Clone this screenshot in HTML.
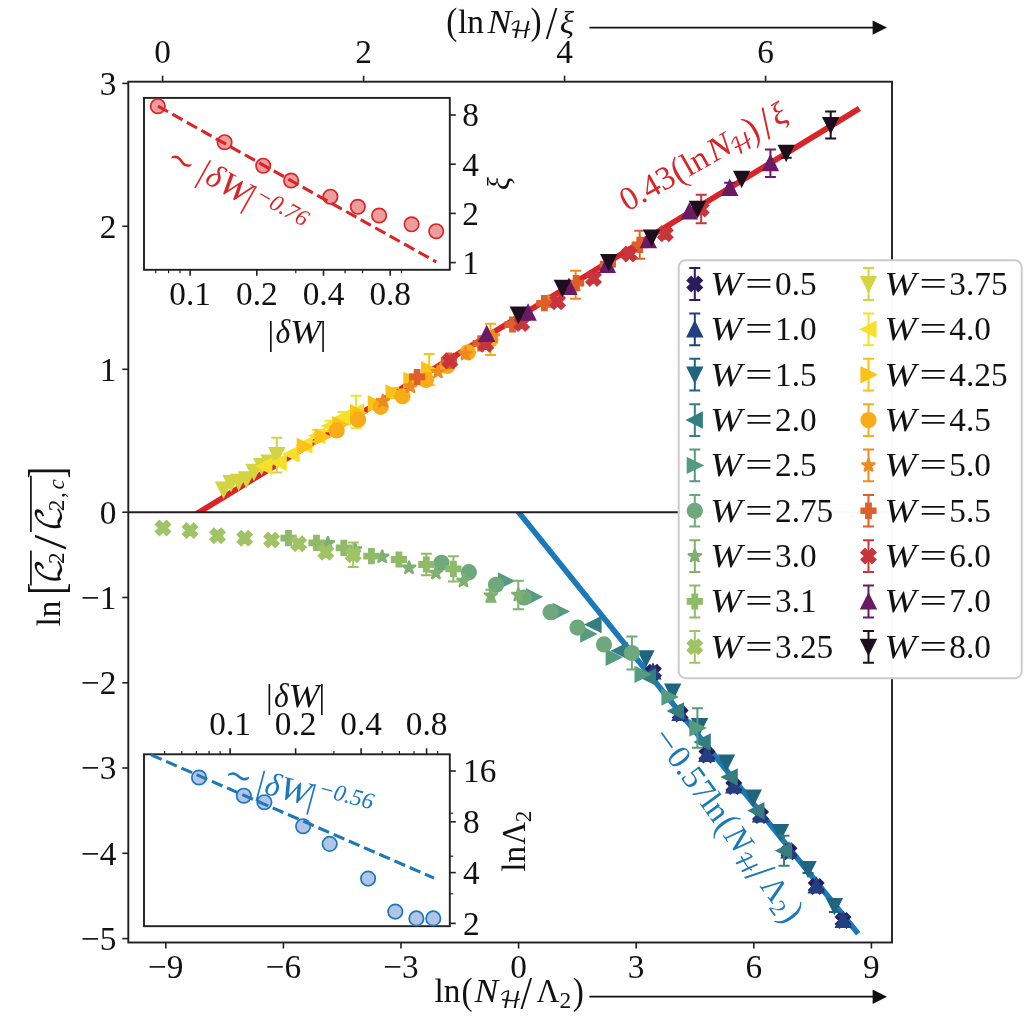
<!DOCTYPE html>
<html><head><meta charset="utf-8"><title>scaling plot</title>
<style>html,body{margin:0;padding:0;background:#fff}svg{display:block}</style></head>
<body>
<svg width="1025" height="1025" viewBox="0 0 1025 1025" style="display:block">
<rect width="1025" height="1025" fill="#fff"/>
<defs><clipPath id="ct"><rect x="128.3" y="81.7" width="763.7" height="430.5"/></clipPath>
<clipPath id="cb"><rect x="128.3" y="512.2" width="763.7" height="430.3"/></clipPath></defs>
<g clip-path="url(#ct)"><line x1="190.0" y1="517.8" x2="859.4" y2="108.5" stroke="#d92528" stroke-width="5.7"/></g>
<g clip-path="url(#cb)"><line x1="515.0" y1="507.7" x2="858.2" y2="933.8" stroke="#1b79ba" stroke-width="5.6"/></g>
<g id="data">
<g><path d="M843.0,916.5 V924.5 M837.5,916.5 H848.5 M837.5,924.5 H848.5" stroke="#2a1c5c" stroke-width="2.0" fill="none"/><path d="M649.9,679.4L653.4,675.8L656.9,679.4L660.5,675.8L656.9,672.3L660.5,668.8L656.9,665.2L653.4,668.8L649.9,665.2L646.3,668.8L649.9,672.3L646.3,675.8Z" fill="#2a1c5c" stroke="#2a1c5c" stroke-width="2.0" stroke-linejoin="miter"/><path d="M676.7,721.1L680.2,717.5L683.8,721.1L687.3,717.5L683.8,714.0L687.3,710.5L683.8,706.9L680.2,710.5L676.7,706.9L673.1,710.5L676.7,714.0L673.1,717.5Z" fill="#2a1c5c" stroke="#2a1c5c" stroke-width="2.0" stroke-linejoin="miter"/><path d="M703.5,762.1L707.0,758.5L710.5,762.1L714.1,758.5L710.5,755.0L714.1,751.5L710.5,747.9L707.0,751.5L703.5,747.9L699.9,751.5L703.5,755.0L699.9,758.5Z" fill="#2a1c5c" stroke="#2a1c5c" stroke-width="2.0" stroke-linejoin="miter"/><path d="M730.2,793.6L733.8,790.0L737.3,793.6L740.9,790.0L737.3,786.5L740.9,783.0L737.3,779.4L733.8,783.0L730.2,779.4L726.7,783.0L730.2,786.5L726.7,790.0Z" fill="#2a1c5c" stroke="#2a1c5c" stroke-width="2.0" stroke-linejoin="miter"/><path d="M757.0,822.6L760.5,819.0L764.0,822.6L767.6,819.0L764.0,815.5L767.6,812.0L764.0,808.4L760.5,812.0L757.0,808.4L753.4,812.0L757.0,815.5L753.4,819.0Z" fill="#2a1c5c" stroke="#2a1c5c" stroke-width="2.0" stroke-linejoin="miter"/><path d="M785.5,858.8L789.0,855.2L792.5,858.8L796.1,855.2L792.5,851.7L796.1,848.2L792.5,844.6L789.0,848.2L785.5,844.6L781.9,848.2L785.5,851.7L781.9,855.2Z" fill="#2a1c5c" stroke="#2a1c5c" stroke-width="2.0" stroke-linejoin="miter"/><path d="M812.7,893.6L816.2,890.0L819.8,893.6L823.3,890.0L819.8,886.5L823.3,883.0L819.8,879.4L816.2,883.0L812.7,879.4L809.1,883.0L812.7,886.5L809.1,890.0Z" fill="#2a1c5c" stroke="#2a1c5c" stroke-width="2.0" stroke-linejoin="miter"/><path d="M839.5,927.6L843.0,924.0L846.5,927.6L850.1,924.0L846.5,920.5L850.1,917.0L846.5,913.4L843.0,917.0L839.5,913.4L835.9,917.0L839.5,920.5L835.9,924.0Z" fill="#2a1c5c" stroke="#2a1c5c" stroke-width="2.0" stroke-linejoin="miter"/></g>
<g><path d="M843.2,916.0 V924.0 M837.7,916.0 H848.7 M837.7,924.0 H848.7" stroke="#243f80" stroke-width="2.0" fill="none"/><path d="M653.0,664.4L645.9,678.6L660.1,678.6Z" fill="#243f80" stroke="#243f80" stroke-width="2.0" stroke-linejoin="miter"/><path d="M680.0,705.9L672.9,720.1L687.1,720.1Z" fill="#243f80" stroke="#243f80" stroke-width="2.0" stroke-linejoin="miter"/><path d="M706.8,746.9L699.7,761.1L713.9,761.1Z" fill="#243f80" stroke="#243f80" stroke-width="2.0" stroke-linejoin="miter"/><path d="M733.6,778.4L726.5,792.6L740.7,792.6Z" fill="#243f80" stroke="#243f80" stroke-width="2.0" stroke-linejoin="miter"/><path d="M760.5,807.4L753.4,821.6L767.6,821.6Z" fill="#243f80" stroke="#243f80" stroke-width="2.0" stroke-linejoin="miter"/><path d="M789.0,843.4L781.9,857.6L796.1,857.6Z" fill="#243f80" stroke="#243f80" stroke-width="2.0" stroke-linejoin="miter"/><path d="M816.2,878.4L809.1,892.6L823.3,892.6Z" fill="#243f80" stroke="#243f80" stroke-width="2.0" stroke-linejoin="miter"/><path d="M843.2,912.9L836.1,927.1L850.3,927.1Z" fill="#243f80" stroke="#243f80" stroke-width="2.0" stroke-linejoin="miter"/></g>
<g><path d="M808.0,865.0 V873.0 M802.5,865.0 H813.5 M802.5,873.0 H813.5" stroke="#1f6580" stroke-width="2.0" fill="none"/><path d="M834.4,900.0 V912.0 M828.9,900.0 H839.9 M828.9,912.0 H839.9" stroke="#1f6580" stroke-width="2.0" fill="none"/><path d="M645.9,665.4L653.0,651.2L638.8,651.2Z" fill="#1f6580" stroke="#1f6580" stroke-width="2.0" stroke-linejoin="miter"/><path d="M672.7,698.7L679.8,684.5L665.6,684.5Z" fill="#1f6580" stroke="#1f6580" stroke-width="2.0" stroke-linejoin="miter"/><path d="M699.5,733.1L706.6,718.9L692.4,718.9Z" fill="#1f6580" stroke="#1f6580" stroke-width="2.0" stroke-linejoin="miter"/><path d="M726.5,769.6L733.6,755.4L719.4,755.4Z" fill="#1f6580" stroke="#1f6580" stroke-width="2.0" stroke-linejoin="miter"/><path d="M753.2,804.7L760.3,790.5L746.1,790.5Z" fill="#1f6580" stroke="#1f6580" stroke-width="2.0" stroke-linejoin="miter"/><path d="M780.5,839.3L787.6,825.1L773.4,825.1Z" fill="#1f6580" stroke="#1f6580" stroke-width="2.0" stroke-linejoin="miter"/><path d="M808.0,876.1L815.1,861.9L800.9,861.9Z" fill="#1f6580" stroke="#1f6580" stroke-width="2.0" stroke-linejoin="miter"/><path d="M834.4,913.1L841.5,898.9L827.3,898.9Z" fill="#1f6580" stroke="#1f6580" stroke-width="2.0" stroke-linejoin="miter"/></g>
<g><path d="M784.0,835.7 V865.7 M778.5,835.7 H789.5 M778.5,865.7 H789.5" stroke="#367d80" stroke-width="2.0" fill="none"/><path d="M586.4,624.5L600.6,631.6L600.6,617.4Z" fill="#367d80" stroke="#367d80" stroke-width="2.0" stroke-linejoin="miter"/><path d="M612.9,650.8L627.1,657.9L627.1,643.7Z" fill="#367d80" stroke="#367d80" stroke-width="2.0" stroke-linejoin="miter"/><path d="M640.9,677.0L655.1,684.1L655.1,669.9Z" fill="#367d80" stroke="#367d80" stroke-width="2.0" stroke-linejoin="miter"/><path d="M668.9,711.0L683.1,718.1L683.1,703.9Z" fill="#367d80" stroke="#367d80" stroke-width="2.0" stroke-linejoin="miter"/><path d="M695.6,742.0L709.8,749.1L709.8,734.9Z" fill="#367d80" stroke="#367d80" stroke-width="2.0" stroke-linejoin="miter"/><path d="M722.6,777.0L736.8,784.1L736.8,769.9Z" fill="#367d80" stroke="#367d80" stroke-width="2.0" stroke-linejoin="miter"/><path d="M749.3,810.7L763.5,817.8L763.5,803.6Z" fill="#367d80" stroke="#367d80" stroke-width="2.0" stroke-linejoin="miter"/><path d="M776.9,850.7L791.1,857.8L791.1,843.6Z" fill="#367d80" stroke="#367d80" stroke-width="2.0" stroke-linejoin="miter"/></g>
<g><path d="M697.4,708.2 V747.8 M691.9,708.2 H702.9 M691.9,747.8 H702.9" stroke="#559b80" stroke-width="2.0" fill="none"/><path d="M513.1,581.0L498.9,573.9L498.9,588.1Z" fill="#559b80" stroke="#559b80" stroke-width="2.0" stroke-linejoin="miter"/><path d="M541.1,596.8L526.9,589.7L526.9,603.9Z" fill="#559b80" stroke="#559b80" stroke-width="2.0" stroke-linejoin="miter"/><path d="M567.8,611.5L553.6,604.4L553.6,618.6Z" fill="#559b80" stroke="#559b80" stroke-width="2.0" stroke-linejoin="miter"/><path d="M595.4,634.0L581.2,626.9L581.2,641.1Z" fill="#559b80" stroke="#559b80" stroke-width="2.0" stroke-linejoin="miter"/><path d="M620.8,657.3L606.6,650.2L606.6,664.4Z" fill="#559b80" stroke="#559b80" stroke-width="2.0" stroke-linejoin="miter"/><path d="M649.7,674.4L635.5,667.3L635.5,681.5Z" fill="#559b80" stroke="#559b80" stroke-width="2.0" stroke-linejoin="miter"/><path d="M676.6,697.0L662.4,689.9L662.4,704.1Z" fill="#559b80" stroke="#559b80" stroke-width="2.0" stroke-linejoin="miter"/><path d="M704.5,728.0L690.3,720.9L690.3,735.1Z" fill="#559b80" stroke="#559b80" stroke-width="2.0" stroke-linejoin="miter"/></g>
<g><path d="M631.9,636.5 V669.5 M626.4,636.5 H637.4 M626.4,669.5 H637.4" stroke="#6fa87c" stroke-width="2.0" fill="none"/><circle cx="441.5" cy="562.8" r="8.1" fill="#6fa87c"/><circle cx="468.9" cy="572.2" r="8.1" fill="#6fa87c"/><circle cx="496.0" cy="584.8" r="8.1" fill="#6fa87c"/><circle cx="523.9" cy="597.5" r="8.1" fill="#6fa87c"/><circle cx="550.6" cy="612.2" r="8.1" fill="#6fa87c"/><circle cx="577.5" cy="627.6" r="8.1" fill="#6fa87c"/><circle cx="604.0" cy="644.4" r="8.1" fill="#6fa87c"/><circle cx="631.9" cy="653.0" r="8.1" fill="#6fa87c"/></g>
<g><path d="M490.9,589.7 V601.7 M485.4,589.7 H496.4 M485.4,601.7 H496.4" stroke="#7fb070" stroke-width="2.0" fill="none"/><path d="M518.3,580.8 V609.2 M512.8,580.8 H523.8 M512.8,609.2 H523.8" stroke="#7fb070" stroke-width="2.0" fill="none"/><path d="M327.9,536.2L326.3,541.1L321.1,541.1L325.3,544.1L323.7,549.0L327.9,546.0L332.1,549.0L330.5,544.1L334.7,541.1L329.5,541.1Z" fill="#7fb070" stroke="#7fb070" stroke-width="2.0" stroke-linejoin="bevel"/><path d="M355.0,542.4L353.4,547.3L348.2,547.3L352.4,550.3L350.8,555.2L355.0,552.2L359.2,555.2L357.6,550.3L361.8,547.3L356.6,547.3Z" fill="#7fb070" stroke="#7fb070" stroke-width="2.0" stroke-linejoin="bevel"/><path d="M382.2,549.7L380.6,554.6L375.4,554.6L379.6,557.6L378.0,562.5L382.2,559.5L386.4,562.5L384.8,557.6L389.0,554.6L383.8,554.6Z" fill="#7fb070" stroke="#7fb070" stroke-width="2.0" stroke-linejoin="bevel"/><path d="M409.0,560.7L407.4,565.6L402.2,565.6L406.4,568.6L404.8,573.5L409.0,570.5L413.2,573.5L411.6,568.6L415.8,565.6L410.6,565.6Z" fill="#7fb070" stroke="#7fb070" stroke-width="2.0" stroke-linejoin="bevel"/><path d="M435.9,565.9L434.3,570.8L429.1,570.8L433.3,573.8L431.7,578.7L435.9,575.7L440.1,578.7L438.5,573.8L442.7,570.8L437.5,570.8Z" fill="#7fb070" stroke="#7fb070" stroke-width="2.0" stroke-linejoin="bevel"/><path d="M463.5,573.9L461.9,578.8L456.7,578.8L460.9,581.8L459.3,586.7L463.5,583.7L467.7,586.7L466.1,581.8L470.3,578.8L465.1,578.8Z" fill="#7fb070" stroke="#7fb070" stroke-width="2.0" stroke-linejoin="bevel"/><path d="M490.9,588.6L489.3,593.5L484.1,593.5L488.3,596.5L486.7,601.4L490.9,598.4L495.1,601.4L493.5,596.5L497.7,593.5L492.5,593.5Z" fill="#7fb070" stroke="#7fb070" stroke-width="2.0" stroke-linejoin="bevel"/><path d="M518.3,587.9L516.7,592.8L511.5,592.8L515.7,595.8L514.1,600.7L518.3,597.7L522.5,600.7L520.9,595.8L525.1,592.8L519.9,592.8Z" fill="#7fb070" stroke="#7fb070" stroke-width="2.0" stroke-linejoin="bevel"/></g>
<g><path d="M426.3,553.7 V575.3 M420.8,553.7 H431.8 M420.8,575.3 H431.8" stroke="#8fba68" stroke-width="2.0" fill="none"/><path d="M453.4,556.3 V581.5 M447.9,556.3 H458.9 M447.9,581.5 H458.9" stroke="#8fba68" stroke-width="2.0" fill="none"/><path d="M286.1,545.3L290.9,545.3L290.9,540.6L295.6,540.6L295.6,535.8L290.9,535.8L290.9,531.1L286.1,531.1L286.1,535.8L281.4,535.8L281.4,540.6L286.1,540.6Z" fill="#8fba68" stroke="#8fba68" stroke-width="2.0" stroke-linejoin="miter"/><path d="M314.1,549.9L318.9,549.9L318.9,545.2L323.6,545.2L323.6,540.4L318.9,540.4L318.9,535.7L314.1,535.7L314.1,540.4L309.4,540.4L309.4,545.2L314.1,545.2Z" fill="#8fba68" stroke="#8fba68" stroke-width="2.0" stroke-linejoin="miter"/><path d="M341.4,554.9L346.2,554.9L346.2,550.2L350.9,550.2L350.9,545.4L346.2,545.4L346.2,540.7L341.4,540.7L341.4,545.4L336.7,545.4L336.7,550.2L341.4,550.2Z" fill="#8fba68" stroke="#8fba68" stroke-width="2.0" stroke-linejoin="miter"/><path d="M369.0,563.2L373.8,563.2L373.8,558.5L378.5,558.5L378.5,553.7L373.8,553.7L373.8,549.0L369.0,549.0L369.0,553.7L364.3,553.7L364.3,558.5L369.0,558.5Z" fill="#8fba68" stroke="#8fba68" stroke-width="2.0" stroke-linejoin="miter"/><path d="M396.5,566.6L401.3,566.6L401.3,561.9L406.0,561.9L406.0,557.1L401.3,557.1L401.3,552.4L396.5,552.4L396.5,557.1L391.8,557.1L391.8,561.9L396.5,561.9Z" fill="#8fba68" stroke="#8fba68" stroke-width="2.0" stroke-linejoin="miter"/><path d="M423.9,571.6L428.7,571.6L428.7,566.9L433.4,566.9L433.4,562.1L428.7,562.1L428.7,557.4L423.9,557.4L423.9,562.1L419.2,562.1L419.2,566.9L423.9,566.9Z" fill="#8fba68" stroke="#8fba68" stroke-width="2.0" stroke-linejoin="miter"/><path d="M451.0,576.0L455.8,576.0L455.8,571.3L460.5,571.3L460.5,566.5L455.8,566.5L455.8,561.8L451.0,561.8L451.0,566.5L446.3,566.5L446.3,571.3L451.0,571.3Z" fill="#8fba68" stroke="#8fba68" stroke-width="2.0" stroke-linejoin="miter"/></g>
<g><path d="M353.2,542.4 V567.0 M347.7,542.4 H358.7 M347.7,567.0 H358.7" stroke="#a0c465" stroke-width="2.0" fill="none"/><path d="M159.4,535.1L163.0,531.5L166.6,535.1L170.1,531.5L166.6,528.0L170.1,524.5L166.6,520.9L163.0,524.5L159.4,520.9L155.9,524.5L159.4,528.0L155.9,531.5Z" fill="#a0c465" stroke="#a0c465" stroke-width="2.0" stroke-linejoin="miter"/><path d="M186.5,537.7L190.1,534.1L193.7,537.7L197.2,534.1L193.7,530.6L197.2,527.1L193.7,523.5L190.1,527.1L186.5,523.5L183.0,527.1L186.5,530.6L183.0,534.1Z" fill="#a0c465" stroke="#a0c465" stroke-width="2.0" stroke-linejoin="miter"/><path d="M213.9,542.8L217.5,539.2L221.1,542.8L224.6,539.2L221.1,535.7L224.6,532.2L221.1,528.6L217.5,532.2L213.9,528.6L210.4,532.2L213.9,535.7L210.4,539.2Z" fill="#a0c465" stroke="#a0c465" stroke-width="2.0" stroke-linejoin="miter"/><path d="M241.1,545.3L244.7,541.8L248.2,545.3L251.8,541.8L248.2,538.2L251.8,534.7L248.2,531.1L244.7,534.7L241.1,531.1L237.6,534.7L241.1,538.2L237.6,541.8Z" fill="#a0c465" stroke="#a0c465" stroke-width="2.0" stroke-linejoin="miter"/><path d="M268.1,547.1L271.6,543.5L275.2,547.1L278.7,543.5L275.2,540.0L278.7,536.5L275.2,532.9L271.6,536.5L268.1,532.9L264.5,536.5L268.1,540.0L264.5,543.5Z" fill="#a0c465" stroke="#a0c465" stroke-width="2.0" stroke-linejoin="miter"/><path d="M295.1,550.9L298.7,547.3L302.2,550.9L305.8,547.3L302.2,543.8L305.8,540.2L302.2,536.7L298.7,540.2L295.1,536.7L291.6,540.2L295.1,543.8L291.6,547.3Z" fill="#a0c465" stroke="#a0c465" stroke-width="2.0" stroke-linejoin="miter"/><path d="M322.2,559.3L325.8,555.8L329.4,559.3L332.9,555.8L329.4,552.2L332.9,548.7L329.4,545.1L325.8,548.7L322.2,545.1L318.7,548.7L322.2,552.2L318.7,555.8Z" fill="#a0c465" stroke="#a0c465" stroke-width="2.0" stroke-linejoin="miter"/><path d="M349.6,561.8L353.2,558.2L356.8,561.8L360.3,558.2L356.8,554.7L360.3,551.2L356.8,547.6L353.2,551.2L349.6,547.6L346.1,551.2L349.6,554.7L346.1,558.2Z" fill="#a0c465" stroke="#a0c465" stroke-width="2.0" stroke-linejoin="miter"/></g>
<g><path d="M276.8,437.7 V472.5 M271.3,437.7 H282.3 M271.3,472.5 H282.3" stroke="#d4d440" stroke-width="2.0" fill="none"/><path d="M223.5,496.7L230.6,482.5L216.4,482.5Z" fill="#d4d440" stroke="#d4d440" stroke-width="2.0" stroke-linejoin="miter"/><path d="M231.1,490.1L238.2,475.9L224.0,475.9Z" fill="#d4d440" stroke="#d4d440" stroke-width="2.0" stroke-linejoin="miter"/><path d="M238.7,488.9L245.8,474.7L231.6,474.7Z" fill="#d4d440" stroke="#d4d440" stroke-width="2.0" stroke-linejoin="miter"/><path d="M246.4,486.4L253.5,472.2L239.3,472.2Z" fill="#d4d440" stroke="#d4d440" stroke-width="2.0" stroke-linejoin="miter"/><path d="M254.0,478.9L261.1,464.7L246.9,464.7Z" fill="#d4d440" stroke="#d4d440" stroke-width="2.0" stroke-linejoin="miter"/><path d="M261.6,473.2L268.7,459.0L254.5,459.0Z" fill="#d4d440" stroke="#d4d440" stroke-width="2.0" stroke-linejoin="miter"/><path d="M269.2,469.8L276.3,455.6L262.1,455.6Z" fill="#d4d440" stroke="#d4d440" stroke-width="2.0" stroke-linejoin="miter"/><path d="M276.8,462.2L283.9,448.0L269.7,448.0Z" fill="#d4d440" stroke="#d4d440" stroke-width="2.0" stroke-linejoin="miter"/></g>
<g><path d="M317.4,430.0 V441.6 M311.9,430.0 H322.9 M311.9,441.6 H322.9" stroke="#f7e02a" stroke-width="2.0" fill="none"/><path d="M330.0,420.7 V431.3 M324.5,420.7 H335.5 M324.5,431.3 H335.5" stroke="#f7e02a" stroke-width="2.0" fill="none"/><path d="M343.0,411.9 V423.1 M337.5,411.9 H348.5 M337.5,423.1 H348.5" stroke="#f7e02a" stroke-width="2.0" fill="none"/><path d="M356.0,395.8 V428.2 M350.5,395.8 H361.5 M350.5,428.2 H361.5" stroke="#f7e02a" stroke-width="2.0" fill="none"/><path d="M257.2,466.3L271.4,473.4L271.4,459.2Z" fill="#f7e02a" stroke="#f7e02a" stroke-width="2.0" stroke-linejoin="miter"/><path d="M271.6,462.6L285.8,469.7L285.8,455.5Z" fill="#f7e02a" stroke="#f7e02a" stroke-width="2.0" stroke-linejoin="miter"/><path d="M284.5,454.0L298.7,461.1L298.7,446.9Z" fill="#f7e02a" stroke="#f7e02a" stroke-width="2.0" stroke-linejoin="miter"/><path d="M297.3,445.0L311.5,452.1L311.5,437.9Z" fill="#f7e02a" stroke="#f7e02a" stroke-width="2.0" stroke-linejoin="miter"/><path d="M310.3,435.8L324.5,442.9L324.5,428.7Z" fill="#f7e02a" stroke="#f7e02a" stroke-width="2.0" stroke-linejoin="miter"/><path d="M322.9,426.0L337.1,433.1L337.1,418.9Z" fill="#f7e02a" stroke="#f7e02a" stroke-width="2.0" stroke-linejoin="miter"/><path d="M335.9,417.5L350.1,424.6L350.1,410.4Z" fill="#f7e02a" stroke="#f7e02a" stroke-width="2.0" stroke-linejoin="miter"/><path d="M348.9,412.0L363.1,419.1L363.1,404.9Z" fill="#f7e02a" stroke="#f7e02a" stroke-width="2.0" stroke-linejoin="miter"/></g>
<g><path d="M393.6,387.9 V397.9 M388.1,387.9 H399.1 M388.1,397.9 H399.1" stroke="#fac316" stroke-width="2.0" fill="none"/><path d="M411.4,374.4 V386.4 M405.9,374.4 H416.9 M405.9,386.4 H416.9" stroke="#fac316" stroke-width="2.0" fill="none"/><path d="M429.2,354.1 V385.1 M423.7,354.1 H434.7 M423.7,385.1 H434.7" stroke="#fac316" stroke-width="2.0" fill="none"/><path d="M311.9,446.5L297.7,439.4L297.7,453.6Z" fill="#fac316" stroke="#fac316" stroke-width="2.0" stroke-linejoin="miter"/><path d="M329.6,436.9L315.4,429.8L315.4,444.0Z" fill="#fac316" stroke="#fac316" stroke-width="2.0" stroke-linejoin="miter"/><path d="M347.4,424.6L333.2,417.5L333.2,431.7Z" fill="#fac316" stroke="#fac316" stroke-width="2.0" stroke-linejoin="miter"/><path d="M365.2,412.8L351.0,405.7L351.0,419.9Z" fill="#fac316" stroke="#fac316" stroke-width="2.0" stroke-linejoin="miter"/><path d="M382.9,403.6L368.7,396.5L368.7,410.7Z" fill="#fac316" stroke="#fac316" stroke-width="2.0" stroke-linejoin="miter"/><path d="M400.7,392.9L386.5,385.8L386.5,400.0Z" fill="#fac316" stroke="#fac316" stroke-width="2.0" stroke-linejoin="miter"/><path d="M418.5,380.4L404.3,373.3L404.3,387.5Z" fill="#fac316" stroke="#fac316" stroke-width="2.0" stroke-linejoin="miter"/><path d="M436.3,369.6L422.1,362.5L422.1,376.7Z" fill="#fac316" stroke="#fac316" stroke-width="2.0" stroke-linejoin="miter"/></g>
<g><path d="M468.0,347.3 V357.3 M462.5,347.3 H473.5 M462.5,357.3 H473.5" stroke="#f8ac18" stroke-width="2.0" fill="none"/><path d="M490.5,323.8 V355.0 M485.0,323.8 H496.0 M485.0,355.0 H496.0" stroke="#f8ac18" stroke-width="2.0" fill="none"/><circle cx="336.7" cy="430.4" r="8.1" fill="#f8ac18"/><circle cx="358.0" cy="419.7" r="8.1" fill="#f8ac18"/><circle cx="380.7" cy="406.8" r="8.1" fill="#f8ac18"/><circle cx="402.5" cy="396.3" r="8.1" fill="#f8ac18"/><circle cx="426.0" cy="380.0" r="8.1" fill="#f8ac18"/><circle cx="447.2" cy="366.0" r="8.1" fill="#f8ac18"/><circle cx="468.0" cy="352.3" r="8.1" fill="#f8ac18"/><circle cx="490.5" cy="339.4" r="8.1" fill="#f8ac18"/></g>
<g><path d="M548.1,296.9 V306.9 M542.6,296.9 H553.6 M542.6,306.9 H553.6" stroke="#ee8a1e" stroke-width="2.0" fill="none"/><path d="M575.6,270.7 V298.7 M570.1,270.7 H581.1 M570.1,298.7 H581.1" stroke="#ee8a1e" stroke-width="2.0" fill="none"/><path d="M382.9,394.1L381.3,399.0L376.1,399.0L380.3,402.1L378.7,407.0L382.9,403.9L387.0,407.0L385.5,402.1L389.6,399.0L384.5,399.0Z" fill="#ee8a1e" stroke="#ee8a1e" stroke-width="2.0" stroke-linejoin="bevel"/><path d="M410.4,379.7L408.8,384.6L403.7,384.6L407.8,387.6L406.2,392.5L410.4,389.5L414.6,392.5L413.0,387.6L417.2,384.6L412.0,384.6Z" fill="#ee8a1e" stroke="#ee8a1e" stroke-width="2.0" stroke-linejoin="bevel"/><path d="M437.9,365.0L436.3,369.9L431.2,369.9L435.4,372.9L433.8,377.8L437.9,374.8L442.1,377.8L440.5,372.9L444.7,369.9L439.5,369.9Z" fill="#ee8a1e" stroke="#ee8a1e" stroke-width="2.0" stroke-linejoin="bevel"/><path d="M465.5,346.9L463.9,351.8L458.7,351.8L462.9,354.8L461.3,359.7L465.5,356.7L469.6,359.7L468.1,354.8L472.2,351.8L467.1,351.8Z" fill="#ee8a1e" stroke="#ee8a1e" stroke-width="2.0" stroke-linejoin="bevel"/><path d="M493.0,329.3L491.4,334.2L486.3,334.2L490.4,337.2L488.8,342.1L493.0,339.1L497.2,342.1L495.6,337.2L499.8,334.2L494.6,334.2Z" fill="#ee8a1e" stroke="#ee8a1e" stroke-width="2.0" stroke-linejoin="bevel"/><path d="M520.5,312.1L518.9,317.0L513.8,317.0L518.0,320.0L516.4,324.9L520.5,321.9L524.7,324.9L523.1,320.0L527.3,317.0L522.1,317.0Z" fill="#ee8a1e" stroke="#ee8a1e" stroke-width="2.0" stroke-linejoin="bevel"/><path d="M548.1,294.8L546.5,299.7L541.3,299.7L545.5,302.8L543.9,307.7L548.1,304.7L552.3,307.7L550.7,302.8L554.8,299.7L549.7,299.7Z" fill="#ee8a1e" stroke="#ee8a1e" stroke-width="2.0" stroke-linejoin="bevel"/><path d="M575.6,277.6L574.0,282.5L568.9,282.5L573.0,285.6L571.4,290.5L575.6,287.4L579.8,290.5L578.2,285.6L582.4,282.5L577.2,282.5Z" fill="#ee8a1e" stroke="#ee8a1e" stroke-width="2.0" stroke-linejoin="bevel"/></g>
<g><path d="M607.9,258.1 V270.1 M602.4,258.1 H613.4 M602.4,270.1 H613.4" stroke="#de5f2a" stroke-width="2.0" fill="none"/><path d="M639.7,230.8 V258.8 M634.2,230.8 H645.2 M634.2,258.8 H645.2" stroke="#de5f2a" stroke-width="2.0" fill="none"/><path d="M414.7,384.1L419.4,384.1L419.4,379.3L424.2,379.3L424.2,374.6L419.4,374.6L419.4,369.9L414.7,369.9L414.7,374.6L410.0,374.6L410.0,379.3L414.7,379.3Z" fill="#de5f2a" stroke="#de5f2a" stroke-width="2.0" stroke-linejoin="miter"/><path d="M446.5,367.8L451.2,367.8L451.2,363.0L456.0,363.0L456.0,358.3L451.2,358.3L451.2,353.6L446.5,353.6L446.5,358.3L441.8,358.3L441.8,363.0L446.5,363.0Z" fill="#de5f2a" stroke="#de5f2a" stroke-width="2.0" stroke-linejoin="miter"/><path d="M478.3,350.4L483.1,350.4L483.1,345.7L487.8,345.7L487.8,341.0L483.1,341.0L483.1,336.2L478.3,336.2L478.3,341.0L473.6,341.0L473.6,345.7L478.3,345.7Z" fill="#de5f2a" stroke="#de5f2a" stroke-width="2.0" stroke-linejoin="miter"/><path d="M510.1,331.6L514.9,331.6L514.9,326.9L519.6,326.9L519.6,322.2L514.9,322.2L514.9,317.4L510.1,317.4L510.1,322.2L505.4,322.2L505.4,326.9L510.1,326.9Z" fill="#de5f2a" stroke="#de5f2a" stroke-width="2.0" stroke-linejoin="miter"/><path d="M541.9,310.3L546.7,310.3L546.7,305.6L551.4,305.6L551.4,300.9L546.7,300.9L546.7,296.1L541.9,296.1L541.9,300.9L537.2,300.9L537.2,305.6L541.9,305.6Z" fill="#de5f2a" stroke="#de5f2a" stroke-width="2.0" stroke-linejoin="miter"/><path d="M573.7,290.2L578.5,290.2L578.5,285.5L583.2,285.5L583.2,280.8L578.5,280.8L578.5,276.0L573.7,276.0L573.7,280.8L569.0,280.8L569.0,285.5L573.7,285.5Z" fill="#de5f2a" stroke="#de5f2a" stroke-width="2.0" stroke-linejoin="miter"/><path d="M605.6,271.2L610.3,271.2L610.3,266.5L615.0,266.5L615.0,261.7L610.3,261.7L610.3,257.0L605.6,257.0L605.6,261.7L600.8,261.7L600.8,266.5L605.6,266.5Z" fill="#de5f2a" stroke="#de5f2a" stroke-width="2.0" stroke-linejoin="miter"/><path d="M637.4,251.9L642.1,251.9L642.1,247.2L646.8,247.2L646.8,242.4L642.1,242.4L642.1,237.7L637.4,237.7L637.4,242.4L632.6,242.4L632.6,247.2L637.4,247.2Z" fill="#de5f2a" stroke="#de5f2a" stroke-width="2.0" stroke-linejoin="miter"/></g>
<g><path d="M665.3,228.8 V238.8 M659.8,228.8 H670.8 M659.8,238.8 H670.8" stroke="#c8353a" stroke-width="2.0" fill="none"/><path d="M701.2,194.8 V223.2 M695.7,194.8 H706.7 M695.7,223.2 H706.7" stroke="#c8353a" stroke-width="2.0" fill="none"/><path d="M446.3,368.2L449.9,364.6L453.4,368.2L457.0,364.6L453.4,361.1L457.0,357.5L453.4,354.0L449.9,357.5L446.3,354.0L442.8,357.5L446.3,361.1L442.8,364.6Z" fill="#c8353a" stroke="#c8353a" stroke-width="2.0" stroke-linejoin="miter"/><path d="M482.2,351.4L485.8,347.8L489.3,351.4L492.9,347.8L489.3,344.3L492.9,340.7L489.3,337.2L485.8,340.7L482.2,337.2L478.7,340.7L482.2,344.3L478.7,347.8Z" fill="#c8353a" stroke="#c8353a" stroke-width="2.0" stroke-linejoin="miter"/><path d="M518.1,330.6L521.7,327.0L525.2,330.6L528.8,327.0L525.2,323.5L528.8,319.9L525.2,316.4L521.7,319.9L518.1,316.4L514.6,319.9L518.1,323.5L514.6,327.0Z" fill="#c8353a" stroke="#c8353a" stroke-width="2.0" stroke-linejoin="miter"/><path d="M554.0,308.8L557.6,305.2L561.1,308.8L564.7,305.2L561.1,301.7L564.7,298.1L561.1,294.6L557.6,298.1L554.0,294.6L550.5,298.1L554.0,301.7L550.5,305.2Z" fill="#c8353a" stroke="#c8353a" stroke-width="2.0" stroke-linejoin="miter"/><path d="M589.9,285.5L593.5,281.9L597.0,285.5L600.6,281.9L597.0,278.4L600.6,274.8L597.0,271.3L593.5,274.8L589.9,271.3L586.4,274.8L589.9,278.4L586.4,281.9Z" fill="#c8353a" stroke="#c8353a" stroke-width="2.0" stroke-linejoin="miter"/><path d="M625.9,261.2L629.4,257.6L633.0,261.2L636.5,257.6L633.0,254.1L636.5,250.5L633.0,247.0L629.4,250.5L625.9,247.0L622.3,250.5L625.9,254.1L622.3,257.6Z" fill="#c8353a" stroke="#c8353a" stroke-width="2.0" stroke-linejoin="miter"/><path d="M661.8,240.9L665.3,237.3L668.9,240.9L672.4,237.3L668.9,233.8L672.4,230.2L668.9,226.7L665.3,230.2L661.8,226.7L658.2,230.2L661.8,233.8L658.2,237.3Z" fill="#c8353a" stroke="#c8353a" stroke-width="2.0" stroke-linejoin="miter"/><path d="M697.7,216.1L701.2,212.5L704.8,216.1L708.3,212.5L704.8,209.0L708.3,205.4L704.8,201.9L701.2,205.4L697.7,201.9L694.1,205.4L697.7,209.0L694.1,212.5Z" fill="#c8353a" stroke="#c8353a" stroke-width="2.0" stroke-linejoin="miter"/></g>
<g><path d="M729.7,182.8 V192.8 M724.2,182.8 H735.2 M724.2,192.8 H735.2" stroke="#6b1a66" stroke-width="2.0" fill="none"/><path d="M770.4,149.5 V176.9 M764.9,149.5 H775.9 M764.9,176.9 H775.9" stroke="#6b1a66" stroke-width="2.0" fill="none"/><path d="M486.7,326.9L479.6,341.1L493.8,341.1Z" fill="#6b1a66" stroke="#6b1a66" stroke-width="2.0" stroke-linejoin="miter"/><path d="M528.1,305.5L521.0,319.7L535.2,319.7Z" fill="#6b1a66" stroke="#6b1a66" stroke-width="2.0" stroke-linejoin="miter"/><path d="M568.9,279.7L561.8,293.9L576.0,293.9Z" fill="#6b1a66" stroke="#6b1a66" stroke-width="2.0" stroke-linejoin="miter"/><path d="M607.3,257.7L600.2,271.9L614.4,271.9Z" fill="#6b1a66" stroke="#6b1a66" stroke-width="2.0" stroke-linejoin="miter"/><path d="M648.3,233.1L641.2,247.3L655.4,247.3Z" fill="#6b1a66" stroke="#6b1a66" stroke-width="2.0" stroke-linejoin="miter"/><path d="M689.3,204.4L682.2,218.6L696.4,218.6Z" fill="#6b1a66" stroke="#6b1a66" stroke-width="2.0" stroke-linejoin="miter"/><path d="M729.7,180.7L722.6,194.9L736.8,194.9Z" fill="#6b1a66" stroke="#6b1a66" stroke-width="2.0" stroke-linejoin="miter"/><path d="M770.4,156.1L763.3,170.3L777.5,170.3Z" fill="#6b1a66" stroke="#6b1a66" stroke-width="2.0" stroke-linejoin="miter"/></g>
<g><path d="M786.2,147.8 V157.8 M780.7,147.8 H791.7 M780.7,157.8 H791.7" stroke="#1f0f1e" stroke-width="2.0" fill="none"/><path d="M830.7,111.6 V138.4 M825.2,111.6 H836.2 M825.2,138.4 H836.2" stroke="#1f0f1e" stroke-width="2.0" fill="none"/><path d="M518.4,321.8L525.5,307.6L511.3,307.6Z" fill="#1f0f1e" stroke="#1f0f1e" stroke-width="2.0" stroke-linejoin="miter"/><path d="M562.4,295.0L569.5,280.8L555.3,280.8Z" fill="#1f0f1e" stroke="#1f0f1e" stroke-width="2.0" stroke-linejoin="miter"/><path d="M608.7,269.1L615.8,254.9L601.6,254.9Z" fill="#1f0f1e" stroke="#1f0f1e" stroke-width="2.0" stroke-linejoin="miter"/><path d="M651.6,244.6L658.7,230.4L644.5,230.4Z" fill="#1f0f1e" stroke="#1f0f1e" stroke-width="2.0" stroke-linejoin="miter"/><path d="M697.5,215.9L704.6,201.7L690.4,201.7Z" fill="#1f0f1e" stroke="#1f0f1e" stroke-width="2.0" stroke-linejoin="miter"/><path d="M741.7,185.9L748.8,171.7L734.6,171.7Z" fill="#1f0f1e" stroke="#1f0f1e" stroke-width="2.0" stroke-linejoin="miter"/><path d="M786.2,159.9L793.3,145.7L779.1,145.7Z" fill="#1f0f1e" stroke="#1f0f1e" stroke-width="2.0" stroke-linejoin="miter"/><path d="M830.7,132.1L837.8,117.9L823.6,117.9Z" fill="#1f0f1e" stroke="#1f0f1e" stroke-width="2.0" stroke-linejoin="miter"/></g>
</g>
<rect x="128.3" y="81.7" width="763.7" height="860.8" fill="none" stroke="#231f20" stroke-width="1.9"/>
<line x1="128.3" y1="512.2" x2="892.0" y2="512.2" stroke="#231f20" stroke-width="1.9"/>
<g font-family='"Liberation Serif", "DejaVu Serif", serif'>
<line x1="122.3" y1="83.4" x2="128.3" y2="83.4" stroke="#231f20" stroke-width="1.6"/>
<text x="116.5" y="94.7" font-size="33.3" text-anchor="end" fill="#111" >3</text>
<line x1="122.3" y1="226.3" x2="128.3" y2="226.3" stroke="#231f20" stroke-width="1.6"/>
<text x="116.5" y="237.6" font-size="33.3" text-anchor="end" fill="#111" >2</text>
<line x1="122.3" y1="369.3" x2="128.3" y2="369.3" stroke="#231f20" stroke-width="1.6"/>
<text x="116.5" y="380.6" font-size="33.3" text-anchor="end" fill="#111" >1</text>
<line x1="122.3" y1="512.2" x2="128.3" y2="512.2" stroke="#231f20" stroke-width="1.6"/>
<text x="116.5" y="523.5" font-size="33.3" text-anchor="end" fill="#111" >0</text>
<line x1="122.3" y1="597.5" x2="128.3" y2="597.5" stroke="#231f20" stroke-width="1.6"/>
<text x="116.5" y="608.8" font-size="33.3" text-anchor="end" fill="#111" >−1</text>
<line x1="122.3" y1="682.8" x2="128.3" y2="682.8" stroke="#231f20" stroke-width="1.6"/>
<text x="116.5" y="694.0" font-size="33.3" text-anchor="end" fill="#111" >−2</text>
<line x1="122.3" y1="768.0" x2="128.3" y2="768.0" stroke="#231f20" stroke-width="1.6"/>
<text x="116.5" y="779.3" font-size="33.3" text-anchor="end" fill="#111" >−3</text>
<line x1="122.3" y1="853.3" x2="128.3" y2="853.3" stroke="#231f20" stroke-width="1.6"/>
<text x="116.5" y="864.6" font-size="33.3" text-anchor="end" fill="#111" >−4</text>
<line x1="122.3" y1="938.6" x2="128.3" y2="938.6" stroke="#231f20" stroke-width="1.6"/>
<text x="116.5" y="949.9" font-size="33.3" text-anchor="end" fill="#111" >−5</text>
<line x1="162.6" y1="75.7" x2="162.6" y2="81.7" stroke="#231f20" stroke-width="1.6"/>
<text x="162.6" y="62.6" font-size="33.3" text-anchor="middle" fill="#111" >0</text>
<line x1="363.6" y1="75.7" x2="363.6" y2="81.7" stroke="#231f20" stroke-width="1.6"/>
<text x="363.6" y="62.6" font-size="33.3" text-anchor="middle" fill="#111" >2</text>
<line x1="564.6" y1="75.7" x2="564.6" y2="81.7" stroke="#231f20" stroke-width="1.6"/>
<text x="564.6" y="62.6" font-size="33.3" text-anchor="middle" fill="#111" >4</text>
<line x1="765.6" y1="75.7" x2="765.6" y2="81.7" stroke="#231f20" stroke-width="1.6"/>
<text x="765.6" y="62.6" font-size="33.3" text-anchor="middle" fill="#111" >6</text>
<line x1="165.8" y1="942.5" x2="165.8" y2="948.5" stroke="#231f20" stroke-width="1.6"/>
<text x="165.8" y="977.6" font-size="33.3" text-anchor="middle" fill="#111" >−9</text>
<line x1="283.4" y1="942.5" x2="283.4" y2="948.5" stroke="#231f20" stroke-width="1.6"/>
<text x="283.4" y="977.6" font-size="33.3" text-anchor="middle" fill="#111" >−6</text>
<line x1="401.0" y1="942.5" x2="401.0" y2="948.5" stroke="#231f20" stroke-width="1.6"/>
<text x="401.0" y="977.6" font-size="33.3" text-anchor="middle" fill="#111" >−3</text>
<line x1="518.6" y1="942.5" x2="518.6" y2="948.5" stroke="#231f20" stroke-width="1.6"/>
<text x="518.6" y="977.6" font-size="33.3" text-anchor="middle" fill="#111" >0</text>
<line x1="636.2" y1="942.5" x2="636.2" y2="948.5" stroke="#231f20" stroke-width="1.6"/>
<text x="636.2" y="977.6" font-size="33.3" text-anchor="middle" fill="#111" >3</text>
<line x1="753.8" y1="942.5" x2="753.8" y2="948.5" stroke="#231f20" stroke-width="1.6"/>
<text x="753.8" y="977.6" font-size="33.3" text-anchor="middle" fill="#111" >6</text>
<line x1="871.4" y1="942.5" x2="871.4" y2="948.5" stroke="#231f20" stroke-width="1.6"/>
<text x="871.4" y="977.6" font-size="33.3" text-anchor="middle" fill="#111" >9</text>
</g>
<line x1="589.4" y1="27.6" x2="877.0" y2="27.6" stroke="#111" stroke-width="1.8"/>
<path d="M887.0,27.6 L872.6,20.4 L872.6,34.8 Z" fill="#111"/>
<line x1="589.4" y1="996.7" x2="877.0" y2="996.7" stroke="#111" stroke-width="1.8"/>
<path d="M887.0,996.7 L872.6,989.5 L872.6,1003.9 Z" fill="#111"/>
<g font-family='"Liberation Serif", "DejaVu Serif", serif'>
<rect x="144.0" y="97.9" width="305.8" height="171.9" fill="#fff" stroke="#231f20" stroke-width="1.9"/>
<line x1="190.1" y1="269.8" x2="190.1" y2="275.8" stroke="#231f20" stroke-width="1.6"/>
<text x="190.1" y="305.2" font-size="33.3" text-anchor="middle" fill="#111" >0.1</text>
<line x1="256.8" y1="269.8" x2="256.8" y2="275.8" stroke="#231f20" stroke-width="1.6"/>
<text x="256.8" y="305.2" font-size="33.3" text-anchor="middle" fill="#111" >0.2</text>
<line x1="323.5" y1="269.8" x2="323.5" y2="275.8" stroke="#231f20" stroke-width="1.6"/>
<text x="323.5" y="305.2" font-size="33.3" text-anchor="middle" fill="#111" >0.4</text>
<line x1="390.2" y1="269.8" x2="390.2" y2="275.8" stroke="#231f20" stroke-width="1.6"/>
<text x="390.2" y="305.2" font-size="33.3" text-anchor="middle" fill="#111" >0.8</text>
<line x1="155.8" y1="269.8" x2="155.8" y2="273.2" stroke="#231f20" stroke-width="1.2"/>
<line x1="168.6" y1="269.8" x2="168.6" y2="273.2" stroke="#231f20" stroke-width="1.2"/>
<line x1="180.0" y1="269.8" x2="180.0" y2="273.2" stroke="#231f20" stroke-width="1.2"/>
<line x1="295.8" y1="269.8" x2="295.8" y2="273.2" stroke="#231f20" stroke-width="1.2"/>
<line x1="345.0" y1="269.8" x2="345.0" y2="273.2" stroke="#231f20" stroke-width="1.2"/>
<line x1="362.5" y1="269.8" x2="362.5" y2="273.2" stroke="#231f20" stroke-width="1.2"/>
<line x1="401.5" y1="269.8" x2="401.5" y2="273.2" stroke="#231f20" stroke-width="1.2"/>
<line x1="449.8" y1="115.0" x2="455.8" y2="115.0" stroke="#231f20" stroke-width="1.6"/>
<text x="462.2" y="126.3" font-size="33.3" text-anchor="start" fill="#111" >8</text>
<line x1="449.8" y1="164.2" x2="455.8" y2="164.2" stroke="#231f20" stroke-width="1.6"/>
<text x="462.2" y="175.5" font-size="33.3" text-anchor="start" fill="#111" >4</text>
<line x1="449.8" y1="213.4" x2="455.8" y2="213.4" stroke="#231f20" stroke-width="1.6"/>
<text x="462.2" y="224.7" font-size="33.3" text-anchor="start" fill="#111" >2</text>
<line x1="449.8" y1="262.6" x2="455.8" y2="262.6" stroke="#231f20" stroke-width="1.6"/>
<text x="462.2" y="273.9" font-size="33.3" text-anchor="start" fill="#111" >1</text>
<line x1="157.9" y1="106.1" x2="436.2" y2="261.9" stroke="#d92528" stroke-width="3.1" stroke-dasharray="11.6 5"/>
<circle cx="157.8" cy="106.2" r="7.2" fill="#d92528" fill-opacity="0.45" stroke="#d92528" stroke-width="1.7"/>
<circle cx="224.6" cy="142.2" r="7.2" fill="#d92528" fill-opacity="0.45" stroke="#d92528" stroke-width="1.7"/>
<circle cx="263.2" cy="165.7" r="7.2" fill="#d92528" fill-opacity="0.45" stroke="#d92528" stroke-width="1.7"/>
<circle cx="291.1" cy="180.5" r="7.2" fill="#d92528" fill-opacity="0.45" stroke="#d92528" stroke-width="1.7"/>
<circle cx="330.4" cy="196.7" r="7.2" fill="#d92528" fill-opacity="0.45" stroke="#d92528" stroke-width="1.7"/>
<circle cx="357.8" cy="206.8" r="7.2" fill="#d92528" fill-opacity="0.45" stroke="#d92528" stroke-width="1.7"/>
<circle cx="379.1" cy="215.5" r="7.2" fill="#d92528" fill-opacity="0.45" stroke="#d92528" stroke-width="1.7"/>
<circle cx="411.6" cy="224.3" r="7.2" fill="#d92528" fill-opacity="0.45" stroke="#d92528" stroke-width="1.7"/>
<circle cx="436.2" cy="231.2" r="7.2" fill="#d92528" fill-opacity="0.45" stroke="#d92528" stroke-width="1.7"/>
<rect x="144.0" y="754.3" width="305.8" height="171.9" fill="#fff" stroke="#231f20" stroke-width="1.9"/>
<line x1="230.1" y1="748.3" x2="230.1" y2="754.3" stroke="#231f20" stroke-width="1.6"/>
<text x="230.1" y="735.4" font-size="33.3" text-anchor="middle" fill="#111" >0.1</text>
<line x1="295.6" y1="748.3" x2="295.6" y2="754.3" stroke="#231f20" stroke-width="1.6"/>
<text x="295.6" y="735.4" font-size="33.3" text-anchor="middle" fill="#111" >0.2</text>
<line x1="361.1" y1="748.3" x2="361.1" y2="754.3" stroke="#231f20" stroke-width="1.6"/>
<text x="361.1" y="735.4" font-size="33.3" text-anchor="middle" fill="#111" >0.4</text>
<line x1="426.6" y1="748.3" x2="426.6" y2="754.3" stroke="#231f20" stroke-width="1.6"/>
<text x="426.6" y="735.4" font-size="33.3" text-anchor="middle" fill="#111" >0.8</text>
<line x1="164.6" y1="750.9" x2="164.6" y2="754.3" stroke="#231f20" stroke-width="1.2"/>
<line x1="181.8" y1="750.9" x2="181.8" y2="754.3" stroke="#231f20" stroke-width="1.2"/>
<line x1="196.4" y1="750.9" x2="196.4" y2="754.3" stroke="#231f20" stroke-width="1.2"/>
<line x1="209.0" y1="750.9" x2="209.0" y2="754.3" stroke="#231f20" stroke-width="1.2"/>
<line x1="220.1" y1="750.9" x2="220.1" y2="754.3" stroke="#231f20" stroke-width="1.2"/>
<line x1="333.9" y1="750.9" x2="333.9" y2="754.3" stroke="#231f20" stroke-width="1.2"/>
<line x1="382.2" y1="750.9" x2="382.2" y2="754.3" stroke="#231f20" stroke-width="1.2"/>
<line x1="399.4" y1="750.9" x2="399.4" y2="754.3" stroke="#231f20" stroke-width="1.2"/>
<line x1="414.0" y1="750.9" x2="414.0" y2="754.3" stroke="#231f20" stroke-width="1.2"/>
<line x1="437.7" y1="750.9" x2="437.7" y2="754.3" stroke="#231f20" stroke-width="1.2"/>
<line x1="449.8" y1="771.0" x2="455.8" y2="771.0" stroke="#231f20" stroke-width="1.6"/>
<text x="463.0" y="782.3" font-size="33.3" text-anchor="start" fill="#111" >16</text>
<line x1="449.8" y1="821.8" x2="455.8" y2="821.8" stroke="#231f20" stroke-width="1.6"/>
<text x="463.0" y="833.1" font-size="33.3" text-anchor="start" fill="#111" >8</text>
<line x1="449.8" y1="872.6" x2="455.8" y2="872.6" stroke="#231f20" stroke-width="1.6"/>
<text x="463.0" y="883.9" font-size="33.3" text-anchor="start" fill="#111" >4</text>
<line x1="449.8" y1="923.4" x2="455.8" y2="923.4" stroke="#231f20" stroke-width="1.6"/>
<text x="463.0" y="934.7" font-size="33.3" text-anchor="start" fill="#111" >2</text>
<line x1="449.8" y1="893.7" x2="453.2" y2="893.7" stroke="#231f20" stroke-width="1.2"/>
<line x1="449.8" y1="856.2" x2="453.2" y2="856.2" stroke="#231f20" stroke-width="1.2"/>
<line x1="449.8" y1="813.2" x2="453.2" y2="813.2" stroke="#231f20" stroke-width="1.2"/>
<line x1="151" y1="754.8" x2="434" y2="878.1" stroke="#1b79ba" stroke-width="3.1" stroke-dasharray="11.6 5"/>
<circle cx="199.0" cy="777.5" r="7.2" fill="#3a6fc4" fill-opacity="0.40" stroke="#1b79ba" stroke-width="1.7"/>
<circle cx="243.8" cy="795.7" r="7.2" fill="#3a6fc4" fill-opacity="0.40" stroke="#1b79ba" stroke-width="1.7"/>
<circle cx="264.4" cy="802.2" r="7.2" fill="#3a6fc4" fill-opacity="0.40" stroke="#1b79ba" stroke-width="1.7"/>
<circle cx="303.1" cy="826.2" r="7.2" fill="#3a6fc4" fill-opacity="0.40" stroke="#1b79ba" stroke-width="1.7"/>
<circle cx="329.7" cy="843.9" r="7.2" fill="#3a6fc4" fill-opacity="0.40" stroke="#1b79ba" stroke-width="1.7"/>
<circle cx="368.1" cy="878.6" r="7.2" fill="#3a6fc4" fill-opacity="0.40" stroke="#1b79ba" stroke-width="1.7"/>
<circle cx="395.3" cy="911.6" r="7.2" fill="#3a6fc4" fill-opacity="0.40" stroke="#1b79ba" stroke-width="1.7"/>
<circle cx="416.4" cy="918.4" r="7.2" fill="#3a6fc4" fill-opacity="0.40" stroke="#1b79ba" stroke-width="1.7"/>
<circle cx="433.3" cy="918.4" r="7.2" fill="#3a6fc4" fill-opacity="0.40" stroke="#1b79ba" stroke-width="1.7"/>
</g>
<rect x="678.7" y="260.2" width="343" height="418" rx="7" ry="7" fill="#fff" fill-opacity="0.97" stroke="#ccc" stroke-width="2"/>
<g font-family='"Liberation Serif", "DejaVu Serif", serif' font-size="33.3" fill="#111">
<path d="M694.8,268.1 V299.9 M689.3,268.1 H700.3 M689.3,299.9 H700.3" stroke="#2a1c5c" stroke-width="2.0" fill="none"/>
<path d="M691.2,291.1L694.8,287.6L698.3,291.1L701.9,287.6L698.3,284.0L701.9,280.4L698.3,276.9L694.8,280.4L691.2,276.9L687.7,280.4L691.2,284.0L687.7,287.6Z" fill="#2a1c5c" stroke="#2a1c5c" stroke-width="2.0" stroke-linejoin="miter"/>
<text transform="translate(710.0 294.9) scale(1.160 1.000)" font-style="italic">W</text>
<text transform="translate(745.0 294.9) scale(1.480 1.000)">=</text>
<text x="775.0" y="294.9">0.5</text>
<path d="M694.8,313.5 V345.2 M689.3,313.5 H700.3 M689.3,345.2 H700.3" stroke="#243f80" stroke-width="2.0" fill="none"/>
<path d="M694.8,322.2L687.7,336.5L701.9,336.5Z" fill="#243f80" stroke="#243f80" stroke-width="2.0" stroke-linejoin="miter"/>
<text transform="translate(710.0 340.2) scale(1.160 1.000)" font-style="italic">W</text>
<text transform="translate(745.0 340.2) scale(1.480 1.000)">=</text>
<text x="775.0" y="340.2">1.0</text>
<path d="M694.8,358.8 V390.6 M689.3,358.8 H700.3 M689.3,390.6 H700.3" stroke="#1f6580" stroke-width="2.0" fill="none"/>
<path d="M694.8,381.8L701.9,367.6L687.7,367.6Z" fill="#1f6580" stroke="#1f6580" stroke-width="2.0" stroke-linejoin="miter"/>
<text transform="translate(710.0 385.6) scale(1.160 1.000)" font-style="italic">W</text>
<text transform="translate(745.0 385.6) scale(1.480 1.000)">=</text>
<text x="775.0" y="385.6">1.5</text>
<path d="M694.8,404.2 V435.9 M689.3,404.2 H700.3 M689.3,435.9 H700.3" stroke="#367d80" stroke-width="2.0" fill="none"/>
<path d="M687.7,420.1L701.9,427.2L701.9,412.9Z" fill="#367d80" stroke="#367d80" stroke-width="2.0" stroke-linejoin="miter"/>
<text transform="translate(710.0 430.9) scale(1.160 1.000)" font-style="italic">W</text>
<text transform="translate(745.0 430.9) scale(1.480 1.000)">=</text>
<text x="775.0" y="430.9">2.0</text>
<path d="M694.8,449.5 V481.3 M689.3,449.5 H700.3 M689.3,481.3 H700.3" stroke="#559b80" stroke-width="2.0" fill="none"/>
<path d="M701.9,465.4L687.7,458.3L687.7,472.5Z" fill="#559b80" stroke="#559b80" stroke-width="2.0" stroke-linejoin="miter"/>
<text transform="translate(710.0 476.3) scale(1.160 1.000)" font-style="italic">W</text>
<text transform="translate(745.0 476.3) scale(1.480 1.000)">=</text>
<text x="775.0" y="476.3">2.5</text>
<path d="M694.8,494.9 V526.6 M689.3,494.9 H700.3 M689.3,526.6 H700.3" stroke="#6fa87c" stroke-width="2.0" fill="none"/>
<circle cx="694.8" cy="510.8" r="8.1" fill="#6fa87c"/>
<text transform="translate(710.0 521.6) scale(1.160 1.000)" font-style="italic">W</text>
<text transform="translate(745.0 521.6) scale(1.480 1.000)">=</text>
<text x="775.0" y="521.6">2.75</text>
<path d="M694.8,540.2 V572.0 M689.3,540.2 H700.3 M689.3,572.0 H700.3" stroke="#7fb070" stroke-width="2.0" fill="none"/>
<path d="M694.8,549.0L693.2,553.9L688.0,553.9L692.2,556.9L690.6,561.8L694.8,558.8L699.0,561.8L697.4,556.9L701.6,553.9L696.4,553.9Z" fill="#7fb070" stroke="#7fb070" stroke-width="2.0" stroke-linejoin="bevel"/>
<text transform="translate(710.0 567.0) scale(1.160 1.000)" font-style="italic">W</text>
<text transform="translate(745.0 567.0) scale(1.480 1.000)">=</text>
<text x="775.0" y="567.0">3.0</text>
<path d="M694.8,585.6 V617.4 M689.3,585.6 H700.3 M689.3,617.4 H700.3" stroke="#8fba68" stroke-width="2.0" fill="none"/>
<path d="M692.4,608.6L697.2,608.6L697.2,603.8L701.9,603.8L701.9,599.1L697.2,599.1L697.2,594.4L692.4,594.4L692.4,599.1L687.7,599.1L687.7,603.8L692.4,603.8Z" fill="#8fba68" stroke="#8fba68" stroke-width="2.0" stroke-linejoin="miter"/>
<text transform="translate(710.0 612.4) scale(1.160 1.000)" font-style="italic">W</text>
<text transform="translate(745.0 612.4) scale(1.480 1.000)">=</text>
<text x="775.0" y="612.4">3.1</text>
<path d="M694.8,630.9 V662.7 M689.3,630.9 H700.3 M689.3,662.7 H700.3" stroke="#a0c465" stroke-width="2.0" fill="none"/>
<path d="M691.2,653.9L694.8,650.3L698.3,653.9L701.9,650.3L698.3,646.8L701.9,643.2L698.3,639.7L694.8,643.2L691.2,639.7L687.7,643.2L691.2,646.8L687.7,650.3Z" fill="#a0c465" stroke="#a0c465" stroke-width="2.0" stroke-linejoin="miter"/>
<text transform="translate(710.0 657.7) scale(1.160 1.000)" font-style="italic">W</text>
<text transform="translate(745.0 657.7) scale(1.480 1.000)">=</text>
<text x="775.0" y="657.7">3.25</text>
<path d="M868.5,268.1 V299.9 M863.0,268.1 H874.0 M863.0,299.9 H874.0" stroke="#d4d440" stroke-width="2.0" fill="none"/>
<path d="M868.5,291.1L875.6,276.9L861.4,276.9Z" fill="#d4d440" stroke="#d4d440" stroke-width="2.0" stroke-linejoin="miter"/>
<text transform="translate(884.3 294.9) scale(1.160 1.000)" font-style="italic">W</text>
<text transform="translate(919.3 294.9) scale(1.480 1.000)">=</text>
<text x="949.3" y="294.9">3.75</text>
<path d="M868.5,313.5 V345.2 M863.0,313.5 H874.0 M863.0,345.2 H874.0" stroke="#f7e02a" stroke-width="2.0" fill="none"/>
<path d="M861.4,329.4L875.6,336.5L875.6,322.2Z" fill="#f7e02a" stroke="#f7e02a" stroke-width="2.0" stroke-linejoin="miter"/>
<text transform="translate(884.3 340.2) scale(1.160 1.000)" font-style="italic">W</text>
<text transform="translate(919.3 340.2) scale(1.480 1.000)">=</text>
<text x="949.3" y="340.2">4.0</text>
<path d="M868.5,358.8 V390.6 M863.0,358.8 H874.0 M863.0,390.6 H874.0" stroke="#fac316" stroke-width="2.0" fill="none"/>
<path d="M875.6,374.7L861.4,367.6L861.4,381.8Z" fill="#fac316" stroke="#fac316" stroke-width="2.0" stroke-linejoin="miter"/>
<text transform="translate(884.3 385.6) scale(1.160 1.000)" font-style="italic">W</text>
<text transform="translate(919.3 385.6) scale(1.480 1.000)">=</text>
<text x="949.3" y="385.6">4.25</text>
<path d="M868.5,404.2 V435.9 M863.0,404.2 H874.0 M863.0,435.9 H874.0" stroke="#f8ac18" stroke-width="2.0" fill="none"/>
<circle cx="868.5" cy="420.1" r="8.1" fill="#f8ac18"/>
<text transform="translate(884.3 430.9) scale(1.160 1.000)" font-style="italic">W</text>
<text transform="translate(919.3 430.9) scale(1.480 1.000)">=</text>
<text x="949.3" y="430.9">4.5</text>
<path d="M868.5,449.5 V481.3 M863.0,449.5 H874.0 M863.0,481.3 H874.0" stroke="#ee8a1e" stroke-width="2.0" fill="none"/>
<path d="M868.5,458.3L866.9,463.2L861.7,463.2L865.9,466.2L864.3,471.1L868.5,468.1L872.7,471.1L871.1,466.2L875.3,463.2L870.1,463.2Z" fill="#ee8a1e" stroke="#ee8a1e" stroke-width="2.0" stroke-linejoin="bevel"/>
<text transform="translate(884.3 476.3) scale(1.160 1.000)" font-style="italic">W</text>
<text transform="translate(919.3 476.3) scale(1.480 1.000)">=</text>
<text x="949.3" y="476.3">5.0</text>
<path d="M868.5,494.9 V526.6 M863.0,494.9 H874.0 M863.0,526.6 H874.0" stroke="#de5f2a" stroke-width="2.0" fill="none"/>
<path d="M866.1,517.9L870.9,517.9L870.9,513.1L875.6,513.1L875.6,508.4L870.9,508.4L870.9,503.6L866.1,503.6L866.1,508.4L861.4,508.4L861.4,513.1L866.1,513.1Z" fill="#de5f2a" stroke="#de5f2a" stroke-width="2.0" stroke-linejoin="miter"/>
<text transform="translate(884.3 521.6) scale(1.160 1.000)" font-style="italic">W</text>
<text transform="translate(919.3 521.6) scale(1.480 1.000)">=</text>
<text x="949.3" y="521.6">5.5</text>
<path d="M868.5,540.2 V572.0 M863.0,540.2 H874.0 M863.0,572.0 H874.0" stroke="#c8353a" stroke-width="2.0" fill="none"/>
<path d="M865.0,563.2L868.5,559.6L872.0,563.2L875.6,559.6L872.0,556.1L875.6,552.6L872.0,549.0L868.5,552.6L865.0,549.0L861.4,552.6L865.0,556.1L861.4,559.6Z" fill="#c8353a" stroke="#c8353a" stroke-width="2.0" stroke-linejoin="miter"/>
<text transform="translate(884.3 567.0) scale(1.160 1.000)" font-style="italic">W</text>
<text transform="translate(919.3 567.0) scale(1.480 1.000)">=</text>
<text x="949.3" y="567.0">6.0</text>
<path d="M868.5,585.6 V617.4 M863.0,585.6 H874.0 M863.0,617.4 H874.0" stroke="#6b1a66" stroke-width="2.0" fill="none"/>
<path d="M868.5,594.4L861.4,608.6L875.6,608.6Z" fill="#6b1a66" stroke="#6b1a66" stroke-width="2.0" stroke-linejoin="miter"/>
<text transform="translate(884.3 612.4) scale(1.160 1.000)" font-style="italic">W</text>
<text transform="translate(919.3 612.4) scale(1.480 1.000)">=</text>
<text x="949.3" y="612.4">7.0</text>
<path d="M868.5,630.9 V662.7 M863.0,630.9 H874.0 M863.0,662.7 H874.0" stroke="#1f0f1e" stroke-width="2.0" fill="none"/>
<path d="M868.5,653.9L875.6,639.7L861.4,639.7Z" fill="#1f0f1e" stroke="#1f0f1e" stroke-width="2.0" stroke-linejoin="miter"/>
<text transform="translate(884.3 657.7) scale(1.160 1.000)" font-style="italic">W</text>
<text transform="translate(919.3 657.7) scale(1.480 1.000)">=</text>
<text x="949.3" y="657.7">8.0</text>
</g>
<g transform="translate(447.8 32.8) rotate(0.00)" fill="#111" font-family='"Liberation Serif", "DejaVu Serif", serif' font-size="33.3">
<text transform="translate(-1.6 1.2) scale(1.000 1.130)">(</text>
<text x="10.3" y="0.0">ln</text>
<text transform="translate(39.6 0.0) scale(1.070 1.000)" font-style="italic">N</text>
<text x="61.5" y="5.6" font-family='"DejaVu Math TeX Gyre", "DejaVu Sans", serif' font-size="23.3">ℋ</text>
<text transform="translate(82.8 1.2) scale(1.000 1.130)">)</text>
<text transform="translate(98.0 6.5) scale(1.250 1.380)">/</text>
<text transform="translate(112.0 0.0) scale(1.000 0.960)" font-style="italic">ξ</text>
</g>
<g transform="translate(435.0 1002.4) rotate(0.00)" fill="#111" font-family='"Liberation Serif", "DejaVu Serif", serif' font-size="33.3">
<text x="-0.6" y="0.0">ln</text>
<text transform="translate(26.6 1.2) scale(1.000 1.130)">(</text>
<text transform="translate(39.6 0.0) scale(1.070 1.000)" font-style="italic">N</text>
<text x="64.0" y="5.6" font-family='"DejaVu Math TeX Gyre", "DejaVu Sans", serif' font-size="23.3">ℋ</text>
<text transform="translate(85.6 6.5) scale(1.250 1.380)">/</text>
<text transform="translate(101.6 0.0) scale(0.950 1.000)">Λ</text>
<text x="124.6" y="5.6" font-size="23.3">2</text>
<text transform="translate(137.8 1.2) scale(1.000 1.130)">)</text>
</g>
<g transform="translate(627.3 212.0) rotate(-29.60)" fill="#d92528" font-family='"Liberation Serif", "DejaVu Serif", serif' font-size="33.3">
<text x="0.0" y="0.0">0.43</text>
<text transform="translate(58.9 1.2) scale(1.000 1.130)">(</text>
<text x="70.8" y="0.0">ln</text>
<text transform="translate(100.1 0.0) scale(1.070 1.000)" font-style="italic">N</text>
<text x="122.0" y="5.6" font-family='"DejaVu Math TeX Gyre", "DejaVu Sans", serif' font-size="23.3">ℋ</text>
<text transform="translate(143.3 1.2) scale(1.000 1.130)">)</text>
<text transform="translate(158.5 6.5) scale(1.250 1.380)">/</text>
<text transform="translate(172.5 0.0) scale(1.000 0.960)" font-style="italic">ξ</text>
</g>
<g transform="translate(651.3 737.4) rotate(54.00)" fill="#1b79ba" font-family='"Liberation Serif", "DejaVu Serif", serif' font-size="33.3">
<text transform="translate(0.0 0.0) scale(1.200 1.000)">−</text>
<text x="24.0" y="0.0">0.57</text>
<text x="81.4" y="0.0">ln</text>
<text transform="translate(108.6 1.2) scale(1.000 1.130)">(</text>
<text transform="translate(121.6 0.0) scale(1.070 1.000)" font-style="italic">N</text>
<text x="146.0" y="5.6" font-family='"DejaVu Math TeX Gyre", "DejaVu Sans", serif' font-size="23.3">ℋ</text>
<text transform="translate(167.6 6.5) scale(1.250 1.380)">/</text>
<text transform="translate(183.6 0.0) scale(0.950 1.000)">Λ</text>
<text x="206.6" y="5.6" font-size="23.3">2</text>
<text transform="translate(219.8 1.2) scale(1.000 1.130)">)</text>
</g>
<g transform="translate(59.5 0.0) rotate(-90.00)" fill="#111" font-family='"Liberation Serif", "DejaVu Serif", serif' font-size="33.3">
<text x="-626.4" y="0.0">ln</text>
<text transform="translate(-594.5 3.3) scale(1.050 1.550)">[</text>
<text x="-583.5" y="0.0" font-family='"DejaVu Math TeX Gyre", "DejaVu Sans", serif'>ℒ</text>
<text x="-564.0" y="4.6" font-size="23.3">2</text>
<text transform="translate(-549.5 6.5) scale(1.600 1.400)">/</text>
<text x="-531.0" y="0.0" font-family='"DejaVu Math TeX Gyre", "DejaVu Sans", serif'>ℒ</text>
<text x="-511.3" y="4.6" font-size="23.3">2</text>
<text x="-498.0" y="4.6" font-size="23.3">,</text>
<text x="-489.5" y="4.6" font-style="italic" font-size="23.3">c</text>
<text transform="translate(-478.5 3.3) scale(1.050 1.550)">]</text>
</g>
<path d="M30.9,585.4 V550.4 M30.9,531.9 V475.8" stroke="#111" stroke-width="1.7" fill="none"/>
<g transform="translate(270.0 343.0) rotate(0.00)" fill="#111" font-family='"Liberation Serif", "DejaVu Serif", serif' font-size="33.3">
<text transform="translate(-2.6 1.6) scale(1.000 1.040)">|</text>
<text transform="translate(5.4 0.0) scale(0.950 1.000)" font-style="italic">δ</text>
<text transform="translate(20.0 0.0) scale(1.130 1.000)" font-style="italic">W</text>
<text transform="translate(49.8 1.6) scale(1.000 1.040)">|</text>
</g>
<g transform="translate(268.6 706.8) rotate(0.00)" fill="#111" font-family='"Liberation Serif", "DejaVu Serif", serif' font-size="33.3">
<text transform="translate(-2.6 1.6) scale(1.000 1.040)">|</text>
<text transform="translate(5.4 0.0) scale(0.950 1.000)" font-style="italic">δ</text>
<text transform="translate(20.0 0.0) scale(1.130 1.000)" font-style="italic">W</text>
<text transform="translate(49.8 1.6) scale(1.000 1.040)">|</text>
</g>
<g transform="translate(509.0 190.0) rotate(-90.00)" fill="#111" font-family='"Liberation Serif", "DejaVu Serif", serif' font-size="33.3">
<text transform="translate(0.0 0.0) scale(0.900 0.950)" font-style="italic">ξ</text>
</g>
<g transform="translate(525.0 871.8) rotate(-90.00)" fill="#111" font-family='"Liberation Serif", "DejaVu Serif", serif' font-size="33.3">
<text x="0.0" y="0.0">ln</text>
<text transform="translate(27.0 0.0) scale(0.950 1.000)">Λ</text>
<text x="49.5" y="5.6" font-size="23.3">2</text>
</g>
<g transform="translate(164.9 163.5) rotate(29.30)" fill="#d92528" font-family='"Liberation Serif", "DejaVu Serif", serif' font-size="33.3">
<text x="0.0" y="-1.0" font-family='"DejaVu Math TeX Gyre", "DejaVu Sans", serif'>∼</text>
<text transform="translate(34.9 -0.9) scale(1.000 1.040)">|</text>
<text transform="translate(42.9 -2.5) scale(0.950 1.000)" font-style="italic">δ</text>
<text transform="translate(57.5 -2.5) scale(1.130 1.000)" font-style="italic">W</text>
<text transform="translate(87.3 -0.9) scale(1.000 1.040)">|</text>
<text x="97.0" y="-12.5" font-size="23.3">−</text>
<text x="111.0" y="-12.5" font-style="italic" font-size="23.3">0.76</text>
</g>
<g transform="translate(223.2 782.8) rotate(15.00)" fill="#1b79ba" font-family='"Liberation Serif", "DejaVu Serif", serif' font-size="33.3">
<text x="0.0" y="-1.0" font-family='"DejaVu Math TeX Gyre", "DejaVu Sans", serif'>∼</text>
<text transform="translate(33.4 1.6) scale(1.000 1.040)">|</text>
<text transform="translate(41.4 0.0) scale(0.950 1.000)" font-style="italic">δ</text>
<text transform="translate(56.0 0.0) scale(1.130 1.000)" font-style="italic">W</text>
<text transform="translate(85.8 1.6) scale(1.000 1.040)">|</text>
<text x="95.5" y="-12.5" font-size="23.3">−</text>
<text x="109.5" y="-12.5" font-style="italic" font-size="23.3">0.56</text>
</g>
</svg>
</body></html>
